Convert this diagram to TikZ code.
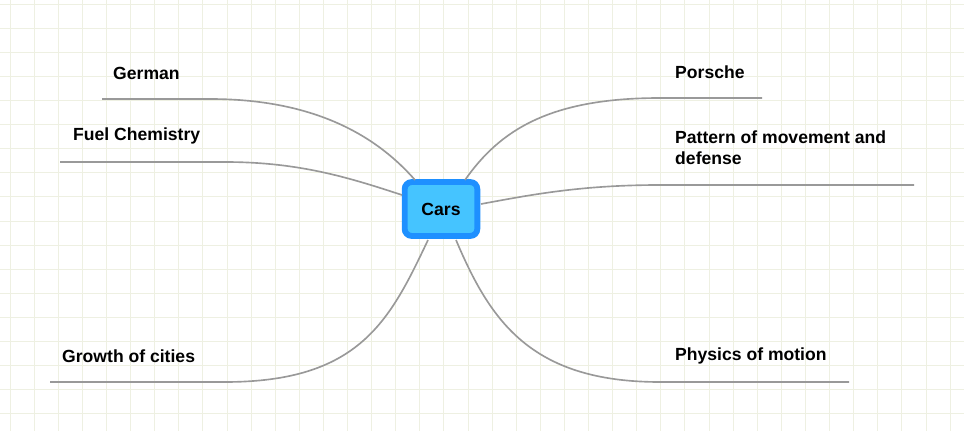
\documentclass[tikz,border=0pt]{standalone}
\usepackage{fontspec}
\setmainfont{Liberation Sans}
\definecolor{gridc}{HTML}{EEF0E2}
\definecolor{branchc}{HTML}{999999}
\definecolor{rootfill}{HTML}{45C4FF}
\definecolor{rootdraw}{HTML}{1E90FF}
\tikzset{
  topic/.style={anchor=west, inner sep=0pt, align=left, font=\fontsize{15}{18}\selectfont\bfseries},
  branch/.style={draw=branchc, line width=1.4pt},
}
\begin{document}
\begin{tikzpicture}[x=0.03cm, y=-0.03cm]

        %Background
        \useasboundingbox (0,0) rectangle (964,431);
        \fill [white] (0,0) rectangle (964,431);
        \begin{scope}
        \clip (0,0) rectangle (964,431);
        \draw [gridc, line width=0.6pt, xstep=0.723cm, ystep=0.723cm, shift={(10,4)}] (-10,-4) grid (964,431);
        \end{scope}
        %Root
        \node [draw=rootdraw, fill=rootfill, line width=5pt, rounded corners=6pt,
               minimum width=62pt, minimum height=46pt,
               font=\fontsize{15}{18}\selectfont\bfseries] (cars) at (441,209) {Cars};
        %Left
        \node [topic] (german) at (113,73) {German};
        \draw [branch] (102,99) -- (210,99) .. controls (320,99) and (380,140) .. (415,180);
        \node [topic] (fuel) at (73,136) {Fuel Chemistry};
        \draw [branch] (60,162) -- (225,162) .. controls (300,162) and (350,178) .. (402,195);
        \node [topic] (growth) at (62,356) {Growth of cities};
        \draw [branch] (50,382) -- (225,382) .. controls (360,382) and (390,320) .. (428,240);
        %Right
        \node [topic] (porsche) at (675,72) {Porsche};
        \draw [branch] (762,98) -- (660,98) .. controls (550,98) and (500,130) .. (465,180);
        \node [topic] (pattern) at (675,148) {Pattern of movement and\\defense};
        \draw [branch] (914,185) -- (660,185) .. controls (580,185) and (530,195) .. (481,204);
        \node [topic] (physics) at (675,356) {Physics of motion};
        \draw [branch] (849,382) -- (660,382) .. controls (530,382) and (490,320) .. (456,240);
        \end{tikzpicture}
\end{document}
